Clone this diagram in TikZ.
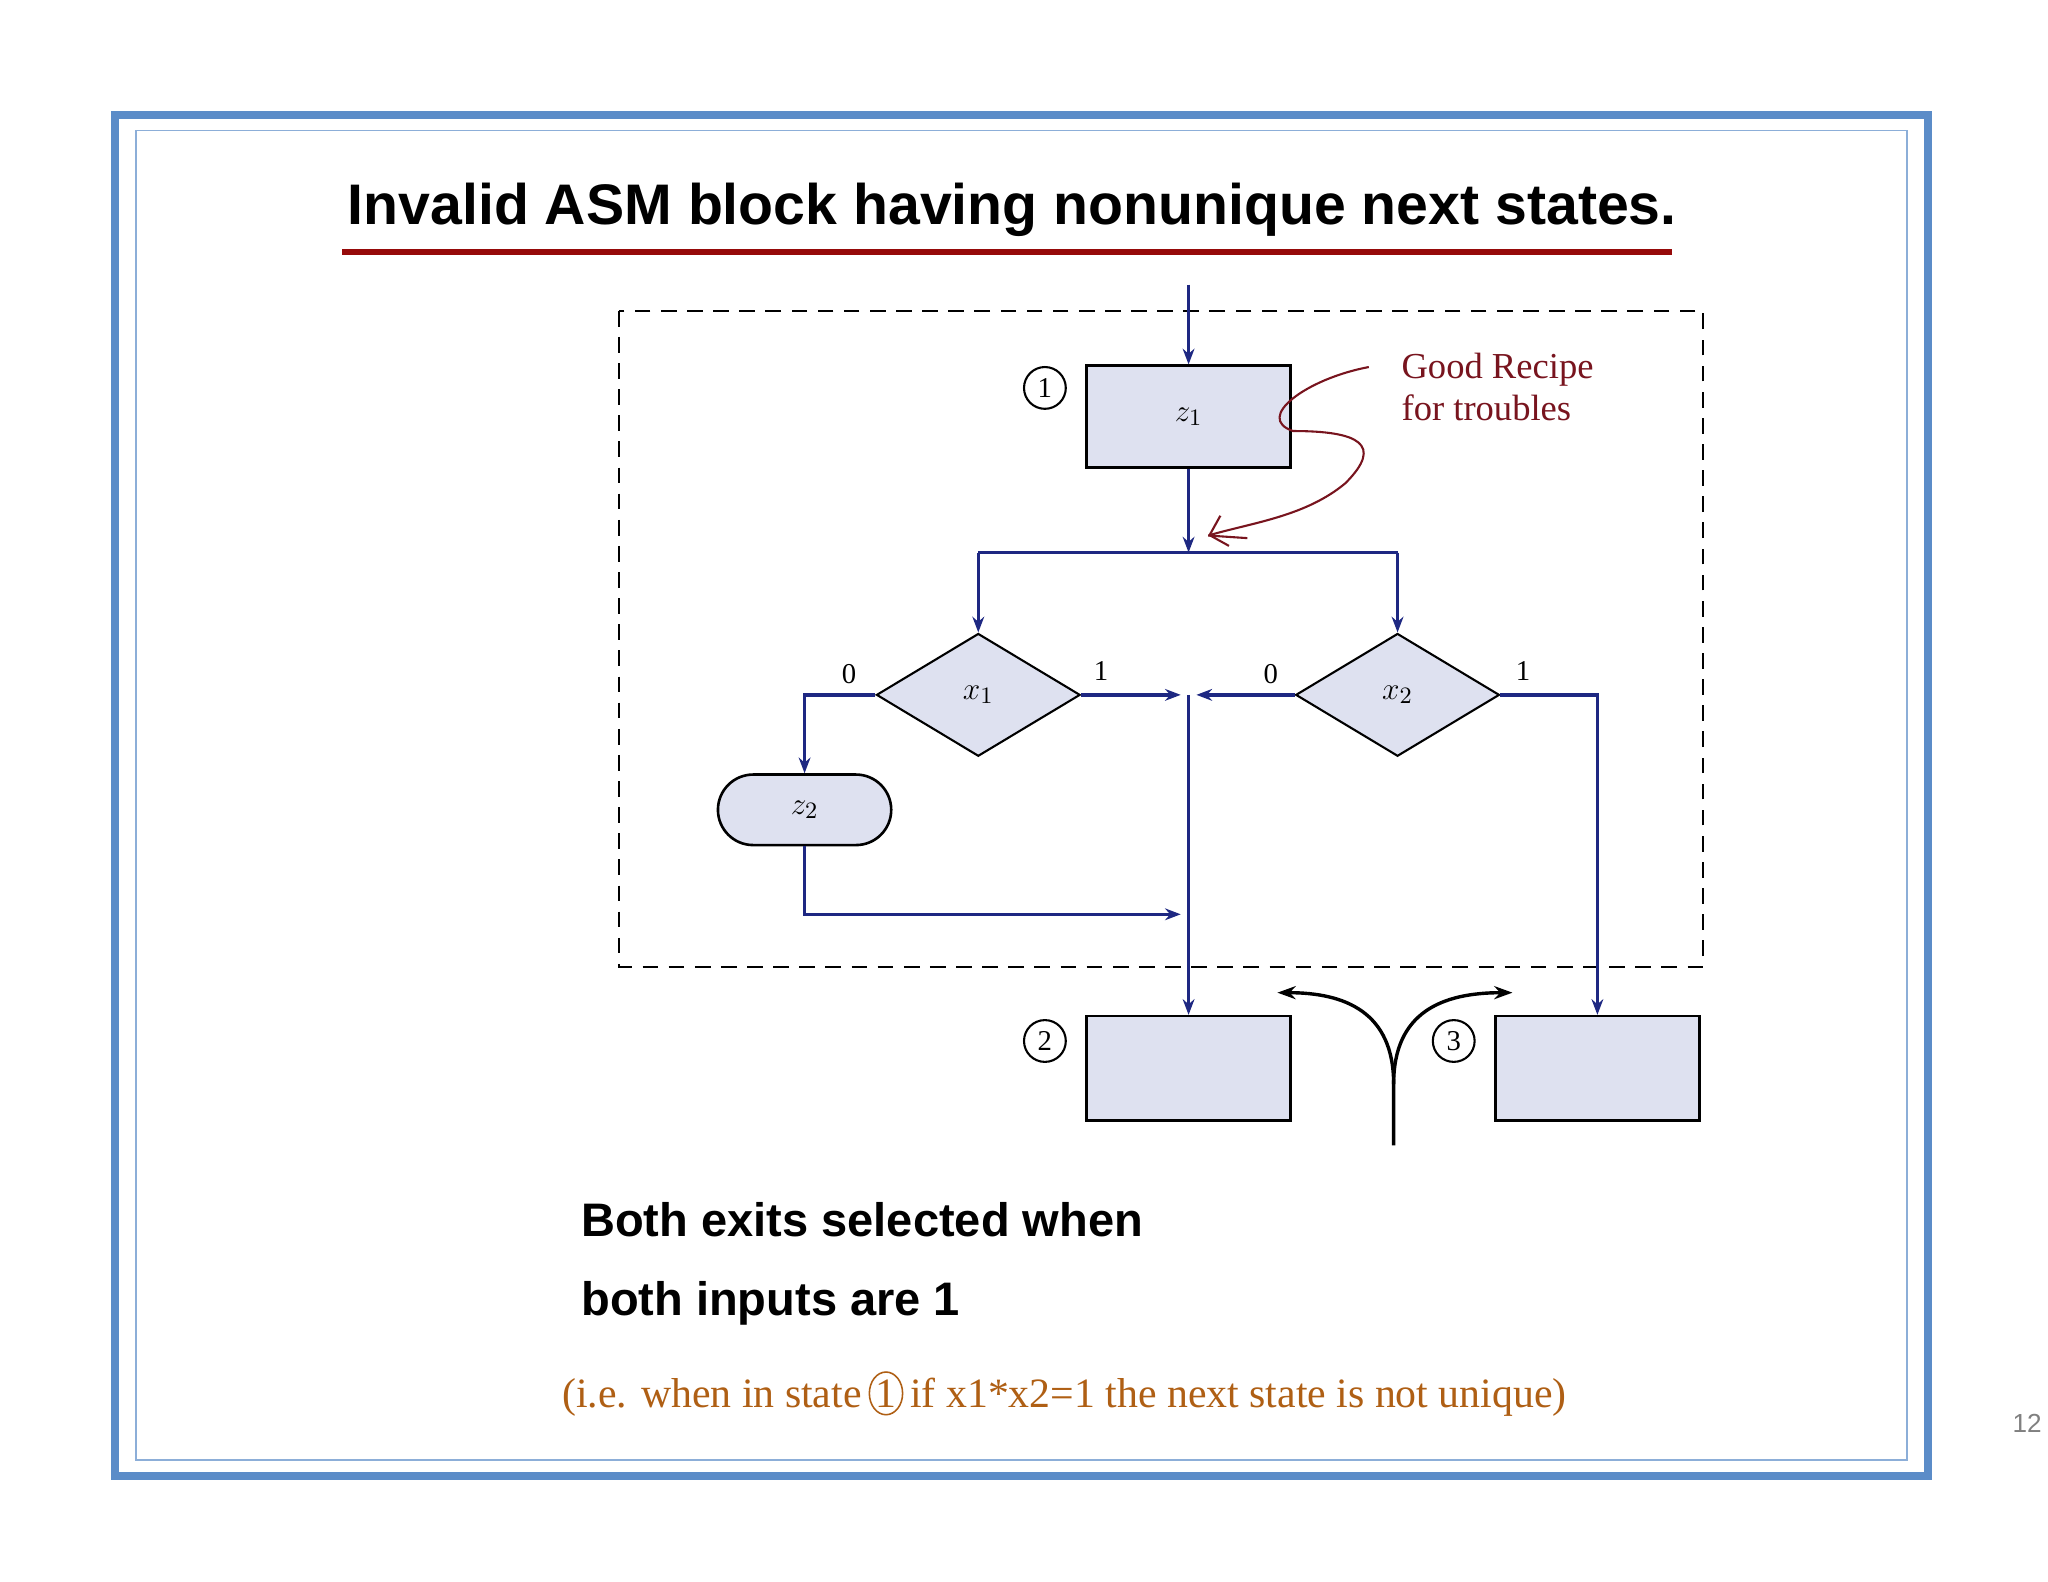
\documentclass[tikz,border=0pt]{standalone}
\usepackage{fontspec}
\setmainfont{Liberation Serif}
\newfontfamily\hsans{Liberation Sans}
\usetikzlibrary{shapes.geometric,shapes.misc,arrows.meta}
\definecolor{frameblue}{RGB}{91,140,200}
\definecolor{flowblue}{RGB}{30,40,130}
\definecolor{boxfill}{RGB}{222,225,240}
\definecolor{recipered}{RGB}{120,20,30}
\definecolor{noteorange}{RGB}{175,95,20}
\definecolor{ulred}{RGB}{150,10,10}
\begin{document}
\begin{tikzpicture}[x=0.5pt,y=-0.5pt,
  flow/.style={draw=flowblue,line width=1.3pt},
  arr/.style={flow,-{Stealth[length=6pt,width=4.5pt]}},
  box/.style={draw=black,line width=1pt,fill=boxfill,font=\fontsize{13}{15}\selectfont},
  dia/.style={diamond,draw=black,line width=0.8pt,fill=boxfill,aspect=1.66,minimum width=78pt,minimum height=47pt,inner sep=0pt,font=\fontsize{13}{15}\selectfont},
  st/.style={circle,draw=black,line width=0.8pt,minimum size=16pt,inner sep=0pt,font=\fontsize{11}{12}\selectfont},
  lab/.style={font=\fontsize{11}{12}\selectfont}]
\useasboundingbox (0,0) rectangle (1568,1211);
\fill[white] (0,0) rectangle (1568,1211);
\draw[frameblue,line width=3pt] (88,88) rectangle (1476,1130);
\draw[frameblue!70,line width=0.6pt] (104,100) rectangle (1460,1118);
\node[font=\hsans\bfseries\fontsize{21.9}{26}\selectfont] (title) at (775,161) {Invalid ASM block having nonunique next states.};
\draw[ulred,line width=2.5pt] (262,193) -- (1280,193);
\draw[dashed,line width=0.8pt,dash pattern=on 6pt off 4pt] (474,238) rectangle (1304,740);
% nodes
\node[box,minimum width=78pt,minimum height=39pt,inner sep=0pt] (z1) at (910,319) {$z_1$};
\node[st] (c1) at (800,297) {1};
\coordinate (top) at (910,218);
\coordinate (j) at (910,423);
\coordinate (jl) at (749,423);
\coordinate (jr) at (1070,423);
\node[dia] (x1) at (749,532) {$x_1$};
\node[dia] (x2) at (1070,532) {$x_2$};
\node[draw=black,line width=1pt,fill=boxfill,rounded rectangle,minimum width=73pt,minimum height=27pt,font=\fontsize{13}{15}\selectfont] (z2) at (616,620) {$z_2$};
\coordinate (m) at (910,532);
\coordinate (m2) at (910,700);
\node[box,minimum width=78pt,minimum height=40pt,inner sep=0pt] (b2) at (910,818) {};
\node[box,minimum width=78pt,minimum height=40pt,inner sep=0pt] (b3) at (1223,818) {};
\node[st] (c2) at (800,797) {2};
\node[st] (c3) at (1113,797) {3};
% connectors
\draw[arr] (top) -- (z1.north);
\draw[arr] (z1.south) -- (j);
\draw[flow] (jl) -- (jr);
\draw[arr] (jl) -- (x1.north);
\draw[arr] (jr) -- (x2.north);
\draw[arr] (x1.west) -| (z2.north);
\draw[arr] (x1.east) -- ([xshift=-3]m);
\draw[arr] (x2.west) -- ([xshift=3]m);
\draw[arr] (z2.south) |- ([xshift=-3]m2);
\draw[arr] (m) -- (b2.north);
\draw[arr] (x2.east) -| (b3.north);
\node[lab] (l0a) at (650,516) {0};
\node[lab] (l1a) at (843,514) {1};
\node[lab] (l0b) at (973,516) {0};
\node[lab] (l1b) at (1166,514) {1};
% Y arrow
\coordinate (ys) at (1067,877);
\coordinate (yl) at (978,760);
\coordinate (yr) at (1158,760);
\draw[line width=1.3pt,-{Stealth[length=7pt,width=5pt]}] (ys) -- (1067,830) .. controls (1067,775) and (1030,760) .. (yl);
\draw[line width=1.3pt,-{Stealth[length=7pt,width=5pt]}] (1067,830) .. controls (1067,775) and (1104,760) .. (yr);
% annotation
\node[recipered,anchor=west,font=\fontsize{14}{16}\selectfont,align=left] (gr) at (1066,296) {Good Recipe\\for troubles};
\draw[recipered,line width=0.8pt,-{Straight Barb[length=6pt]}] (1048,281) .. controls (1000,290) and (960,320) .. (990,330) .. controls (1040,330) and (1060,340) .. (1030,370) .. controls (1000,395) and (960,400) .. (925,410);
\draw[recipered,line width=0.8pt] (925,410) -- (955,412);
% bottom text
\node[anchor=west,font=\hsans\bfseries\fontsize{18}{21}\selectfont] (t1) at (438,934) {Both exits selected when};
\node[anchor=west,font=\hsans\bfseries\fontsize{18}{21}\selectfont] (t2) at (438,998) {both inputs are 1};
\node[anchor=west,noteorange,font=\fontsize{16}{19}\selectfont,inner sep=0pt] (t3) at (430,1067) {(i.e. when in state\,\tikz[baseline=(o.base)]\node[draw=noteorange,ellipse,inner sep=0.5pt,line width=0.6pt] (o) {1};\,if x1*x2=1 the next state is not unique)};
\node[gray,font=\hsans\fontsize{10}{12}\selectfont] (pg) at (1552,1090) {12};
\end{tikzpicture}
\end{document}
